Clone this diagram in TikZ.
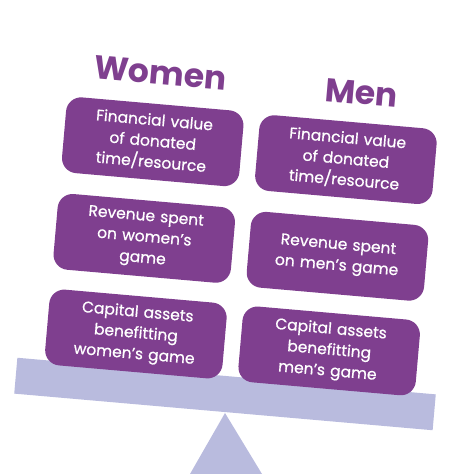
\documentclass[tikz,border=0pt]{standalone}
\usepackage{fontspec}
\setmainfont{Poppins}
\newfontfamily\boxfont{Poppins}[FakeBold=0.7]
\usetikzlibrary{positioning}
\definecolor{FundPurple}{RGB}{127, 63, 143}
\definecolor{FundLavender}{RGB}{185, 187, 222}

\begin{document}
\begin{tikzpicture}[x=1pt, y=1pt,
    fundbox/.style={rounded corners=15pt, fill=FundPurple, text=white,
      minimum width=178pt, minimum height=76pt, text width=165pt, align=center,
      inner sep=0pt, font=\boxfont\fontsize{15.5}{21}\selectfont},
    sidehead/.style={text=FundPurple, inner sep=0pt, font=\fontsize{33}{36}\selectfont\bfseries}]
    \useasboundingbox (0,0) rectangle (474,474);
    % fulcrum
    \fill[FundLavender] (225,61) coordinate (apex) -- (262,0) -- (190,0) -- cycle;
    \begin{scope}[shift={(225,80)}, rotate=-5, transform shape]
      \node[fill=FundLavender, minimum width=420pt, minimum height=36pt, inner sep=0pt] (plank) at (0,0) {};
      % women side
      \node[sidehead] (women) at (-92,314) {Women};
      \node[fundbox] (wvalue) at (-94,245) {Financial value\\of donated\\time/resource};
      \node[fundbox] (wrevenue) at (-94,148) {Revenue spent\\on women’s\\game};
      \node[fundbox] (wassets) at (-94,52) {Capital assets\\benefitting\\women’s game};
      % men side
      \node[sidehead] (men) at (110,312) {Men};
      \node[fundbox] (mvalue) at (100,244) {Financial value\\of donated\\time/resource};
      \node[fundbox] (mrevenue) at (100,147) {Revenue spent\\on men’s game};
      \node[fundbox] (massets) at (100,52) {Capital assets\\benefitting\\men’s game};
    \end{scope}
\end{tikzpicture}
\end{document}
